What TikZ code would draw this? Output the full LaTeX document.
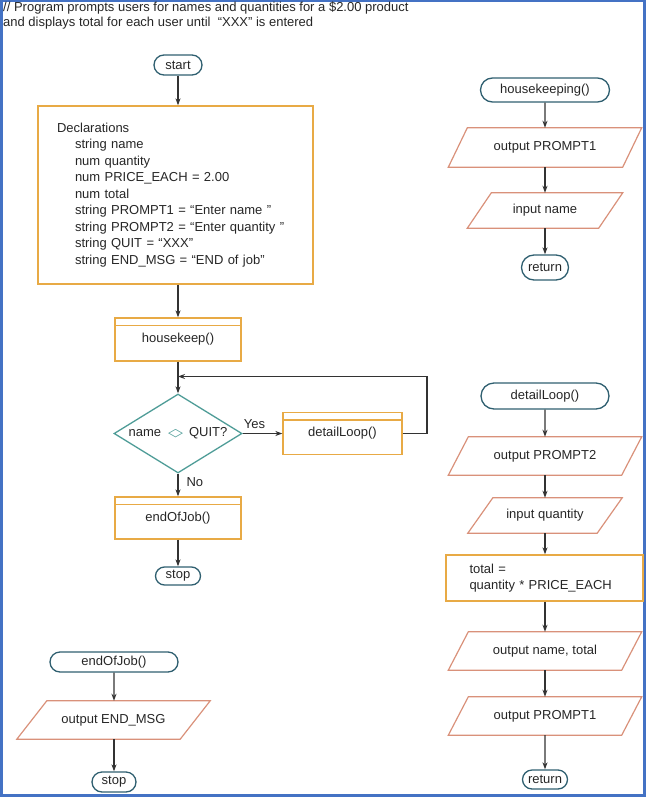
\documentclass[tikz,border=0pt]{standalone}
\usepackage{fontspec}
\setmainfont{Liberation Sans}
\newfontfamily\symfont{DejaVu Sans}
\usetikzlibrary{shapes.geometric,shapes.misc,arrows.meta}
\definecolor{frameblue}{HTML}{4472C4}
\definecolor{txt}{HTML}{262626}
\definecolor{termc}{HTML}{2F5F70}
\definecolor{decc}{HTML}{4E9C97}
\definecolor{procc}{HTML}{E8AA45}
\definecolor{ioc}{HTML}{D9917A}
\definecolor{arrc}{HTML}{333333}
\newcommand\ioshape[6]{%
  \node[iotext, minimum width=#3pt, minimum height=#4pt] (#1) at (#2) {#6};
  \draw[iostroke] ([xshift=-#5pt]#1.south west) -- ([xshift=#5pt]#1.north west)
     -- ([xshift=#5pt]#1.north east) -- ([xshift=-#5pt]#1.south east) -- cycle;}
\begin{document}
\begin{tikzpicture}[x=1pt,y=-1pt,
  every node/.style={text=txt, font=\fontsize{13}{16.5}\selectfont},
  term/.style={draw=termc, line width=1.3pt, rounded rectangle, inner sep=1pt},
  proc/.style={draw=procc, line width=1.3pt, rectangle},
  sub/.style={proc, path picture={\draw[procc, line width=1.1pt]
      ([yshift=-7.5pt]path picture bounding box.north west) --
      ([yshift=-7.5pt]path picture bounding box.north east);}},
  iotext/.style={rectangle, draw=none, inner sep=1pt},
  iostroke/.style={draw=ioc, line width=1.2pt},
  arr/.style={draw=arrc, line width=1.2pt, -{Stealth[length=7pt,width=5pt]}},
  lbl/.style={font=\fontsize{13}{14}\selectfont, inner sep=0pt}]
\useasboundingbox (0,0) rectangle (646,797);
\draw[frameblue, line width=3pt] (1.5,1) rectangle (644,795.5);

% title
\node[anchor=north west, align=left, inner sep=0pt, font=\fontsize{13}{15}\selectfont] (title) at (3,1.5)
  {// Program prompts users for names and quantities for a \$2.00 product\\and displays total for each user until~ “XXX” is entered};

% main column
\node[term, minimum width=50pt, minimum height=20pt] (start) at (178,65) {start};
\node[proc, minimum width=275pt, minimum height=178pt, text width=237pt, align=left] (decl) at (175.5,195)
  {Declarations\\
   \hspace*{18pt}string name\\
   \hspace*{18pt}num quantity\\
   \hspace*{18pt}num PRICE\_EACH = 2.00\\
   \hspace*{18pt}num total\\
   \hspace*{18pt}string PROMPT1 = “Enter name ”\\
   \hspace*{18pt}string PROMPT2 = “Enter quantity ”\\
   \hspace*{18pt}string QUIT = “XXX”\\
   \hspace*{18pt}string END\_MSG = “END of job”};
\node[sub, minimum width=126pt, minimum height=43pt] (hk) at (178,339.5) {\raisebox{-3pt}{housekeep()}};
\node[draw=decc, line width=1.3pt, diamond, aspect=1.62, minimum width=128pt, minimum height=79pt, inner sep=0pt] (dec) at (178,433.5)
  {name\hspace{7pt}{\symfont\color{decc}\scalebox{1.5}[0.85]{◇}}\hspace{6pt}QUIT?};
\node[sub, minimum width=119pt, minimum height=42pt] (dl) at (342.5,433.5) {\raisebox{-3pt}{detailLoop()}};
\node[sub, minimum width=126pt, minimum height=42pt] (eoj) at (178,518) {\raisebox{-3pt}{endOfJob()}};
\node[term, minimum width=47pt, minimum height=18pt] (stop1) at (178,576) {stop};
\coordinate (lr) at (427,376.5);
\coordinate (lj) at (178,376.5);

\draw[arr] (start.south) -- (start.south |- decl.north);
\draw[arr] (decl.south -| hk.north) -- (hk.north);
\draw[arr] (hk) -- (dec);
\draw[arr] (dec) -- node[lbl, pos=0.3, anchor=south, yshift=4pt] {Yes} (dl);
\draw[arr] (dl.east) -| (lr) -- (lj);
\draw[arr] (dec) -- node[lbl, pos=0.35, anchor=west, xshift=8pt] {No} (eoj);
\draw[arr] (eoj) -- (stop1);

% endOfJob module
\node[term, minimum width=130pt, minimum height=20pt] (eojT) at (114,662) {endOfJob()};
\ioshape{outEnd}{113.5,720}{163}{38}{15}{output END\_MSG}
\node[term, minimum width=46pt, minimum height=20pt] (stop2) at (114,782) {stop};
\draw[arr] (eojT) -- (eojT.south |- outEnd.north);
\draw[arr] (eojT.south |- outEnd.south) -- (eojT.south |- stop2.north);

% housekeeping module
\node[term, minimum width=131pt, minimum height=24pt] (hkT) at (545,90) {housekeeping()};
\ioshape{outP1}{545,147.5}{174}{39}{9.5}{output PROMPT1}
\ioshape{inName}{545,210.5}{131}{35}{12}{input name}
\node[term, minimum width=49pt, minimum height=25pt] (ret1) at (545,267.5) {return};
\draw[arr] (hkT) -- (outP1);
\draw[arr] (outP1) -- (inName);
\draw[arr] (inName) -- (ret1);

% detailLoop module
\node[term, minimum width=130pt, minimum height=26pt] (dlT) at (545,396) {detailLoop()};
\ioshape{outP2}{545,456}{173}{38}{10}{output PROMPT2}
\ioshape{inQty}{545,515.5}{129}{35}{12.5}{input quantity}
\node[proc, minimum width=197pt, minimum height=46pt, text width=150pt, align=left] (calc) at (544.5,578)
  {total =\\quantity * PRICE\_EACH};
\ioshape{outNT}{545,651}{173}{38}{10}{output name, total}
\ioshape{outP1b}{545,716}{173}{38}{10}{output PROMPT1}
\node[term, minimum width=47pt, minimum height=19pt] (ret2) at (545,779.5) {return};
\draw[arr] (dlT) -- (outP2);
\draw[arr] (outP2) -- (inQty);
\draw[arr] (inQty) -- (inQty.south |- calc.north);
\draw[arr] (inQty.south |- calc.south) -- (outNT);
\draw[arr] (outNT) -- (outP1b);
\draw[arr] (outP1b) -- (ret2);
\end{tikzpicture}
\end{document}
